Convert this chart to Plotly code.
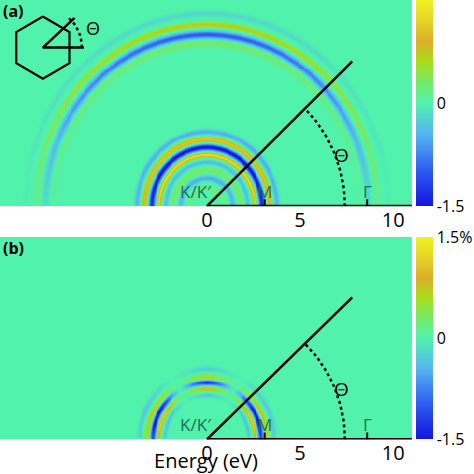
import numpy as np
import plotly.graph_objects as go
from plotly.subplots import make_subplots

# ring data: radius (eV), amplitude (%), width (eV)
rings_a_small = [(3.75, -0.5, 0.13), (3.35, 1.1, 0.13), (2.95, -1.5, 0.15), (2.57, 1.3, 0.11),
                 (2.2, -0.4, 0.11), (1.8, 0.35, 0.12), (1.4, -0.5, 0.13), (0.9, 0.2, 0.12)]
rings_a_big = [(9.15, 0.75, 0.14), (8.65, -1.0, 0.18), (8.2, 0.3, 0.16), (9.7, -0.2, 0.15)]
ang_deg = [0, 15, 30, 45, 60, 75, 90, 105, 120, 135, 150, 165, 180]
big_weight = [0.15, 0.35, 0.55, 0.7, 0.85, 0.95, 1.0, 0.95, 0.85, 0.7, 0.55, 0.35, 0.15]
small_weight_a = [0.9, 0.95, 1.0, 1.0, 1.0, 1.0, 1.0, 1.0, 1.0, 1.0, 1.0, 0.95, 0.9]
rings_b = [(3.6, -0.3, 0.13), (3.2, 0.8, 0.13), (2.9, -1.5, 0.14), (2.58, 1.2, 0.1), (2.25, -0.35, 0.1)]
weight_b = [0.7, 1.0, 1.0, 0.6, 0.0, 0.5, 0.9, 0.5, 0.0, 0.6, 1.0, 1.0, 0.7]

x_ticks = [0, 5, 10]
cb_vals = [-1.5, 0, 1.5]
cb_text = ["-1.5", "0", "1.5%"]

xs = np.linspace(-11.1, 11.0, 442)
ys = np.linspace(0, 10.4, 210)
X, Y = np.meshgrid(xs, ys)
R = np.sqrt(X**2 + Y**2)
TH = np.degrees(np.arctan2(Y, X))

def field(rings, weights):
    z = np.zeros_like(R)
    w = np.interp(TH, ang_deg, weights)
    for r0, a, s in rings:
        z += a * np.exp(-((R - r0) / s) ** 2)
    return z * w

za = field(rings_a_small, small_weight_a) + field(rings_a_big, big_weight)
zb = field(rings_b, weight_b)

cs = [[0, "#1414e0"], [0.18, "#2f5ff0"], [0.35, "#55b6f2"], [0.5, "#50f2ac"],
      [0.62, "#7ee85a"], [0.7, "#a8dc18"], [0.8, "#dcae2a"], [0.9, "#e6d426"], [1, "#f2f222"]]

fig = make_subplots(rows=2, cols=1)
doms = [[0.565, 1.0], [0.073, 0.5]]
for i, z in enumerate([za, zb]):
    fig.add_trace(go.Heatmap(x=xs, y=ys, z=z, zmin=-1.5, zmax=1.5, colorscale=cs,
                             colorbar=dict(x=0.877, xanchor="left", y=doms[i][0], yanchor="bottom",
                                           len=doms[i][1] - doms[i][0], lenmode="fraction",
                                           xpad=0, ypad=0, ticklabelposition="outside",
                                           thickness=17, outlinewidth=0, tickvals=cb_vals,
                                           ticktext=cb_text, ticks="",
                                           tickfont=dict(family="Open Sans", size=16, color="black"))),
                  row=i + 1, col=1)

ang = np.radians(np.linspace(0, 45, 30))
for i in range(2):
    xa = "x" if i == 0 else "x2"
    ya = "y" if i == 0 else "y2"
    fig.add_trace(go.Scatter(x=[0, 7.8], y=[0, 7.3], mode="lines", line=dict(color="black", width=2.5),
                             xaxis=xa, yaxis=ya, showlegend=False, hoverinfo="skip"))
    fig.add_trace(go.Scatter(x=[0, 11], y=[0, 0], mode="lines", line=dict(color="black", width=3),
                             xaxis=xa, yaxis=ya, showlegend=False, hoverinfo="skip"))
    fig.add_trace(go.Scatter(x=7.4 * np.cos(ang), y=7.0 * np.sin(ang), mode="lines",
                             line=dict(color="black", width=2.5, dash="dot"),
                             xaxis=xa, yaxis=ya, showlegend=False, hoverinfo="skip"))
    for px in [3.1, 8.6]:
        fig.add_trace(go.Scatter(x=[px, px], y=[0, 0.35], mode="lines", line=dict(color="black", width=2),
                                 xaxis=xa, yaxis=ya, showlegend=False, hoverinfo="skip"))
    for txt, tx in [("K/K′", -0.6), ("M", 3.1), ("Γ", 8.6)]:
        fig.add_annotation(x=tx, y=0.05, xref=xa, yref=ya, text=txt, showarrow=False, yanchor="bottom",
                           font=dict(family="Open Sans", size=17, color="#1d6e58"))
    fig.add_annotation(x=7.2, y=2.6, xref=xa, yref=ya, text="Θ", showarrow=False,
                       font=dict(family="Open Sans", size=19, color="black"))
    fig.add_annotation(x=0.003, y=doms[i][1] + 0.005, xref="paper", yref="paper", text=["<b>(a)</b>", "<b>(b)</b>"][i],
                       showarrow=False, xanchor="left", yanchor="top",
                       font=dict(family="Open Sans", size=16, color="black"))

# hexagon inset (panel a)
hcx, hcy = -8.8, 8.0
hx = [hcx + 1.65 * np.cos(np.radians(90 + 60 * k)) for k in range(7)]
hy = [hcy + 1.57 * np.sin(np.radians(90 + 60 * k)) for k in range(7)]
fig.add_trace(go.Scatter(x=hx, y=hy, mode="lines", line=dict(color="black", width=2.2),
                         showlegend=False, hoverinfo="skip"))
fig.add_trace(go.Scatter(x=[-6.6, hcx, -7.1], y=[hcy, hcy, 9.5], mode="lines",
                         line=dict(color="black", width=2.5), showlegend=False, hoverinfo="skip"))
a2 = np.radians(np.linspace(0, 50, 12))
fig.add_trace(go.Scatter(x=hcx + 2.1 * np.cos(a2), y=hcy + 2.0 * np.sin(a2), mode="lines",
                         line=dict(color="black", width=2.5, dash="dot"), showlegend=False, hoverinfo="skip"))
fig.add_annotation(x=-6.1, y=9.0, text="Θ", showarrow=False, font=dict(family="Open Sans", size=18, color="black"))

for i, ax in enumerate(["xaxis", "xaxis2"]):
    fig.layout[ax].update(range=[-11.1, 11.0], domain=[0, 0.869], tickvals=x_ticks, ticks="",
                          showgrid=False, zeroline=False, showline=False, automargin=False,
                          tickfont=dict(family="Open Sans", size=20, color="black"))
for i, ay in enumerate(["yaxis", "yaxis2"]):
    fig.layout[ay].update(range=[0, 10.4], domain=doms[i], showticklabels=False, ticks="",
                          showgrid=False, zeroline=False, showline=False, automargin=False)
fig.layout.xaxis2.title = dict(text="Energy (eV)", standoff=4,
                               font=dict(family="Open Sans", size=20, color="black"))
fig.update_layout(width=474, height=474, margin=dict(l=0, r=0, t=0, b=0, autoexpand=False),
                  paper_bgcolor="white", plot_bgcolor="white", showlegend=False)
fig.write_html("out.html", config={"displayModeBar": False})
with open("out.html", encoding="utf-8") as f:
    html = f.read()
html = html.replace("<head>", "<head><style>html,body{margin:0;padding:0;overflow:hidden}</style>", 1)
with open("out.html", "w", encoding="utf-8") as f:
    f.write(html)
